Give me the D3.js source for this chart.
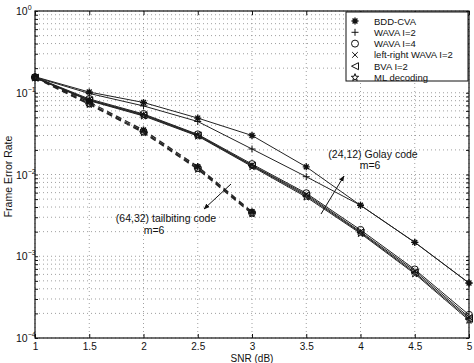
<!DOCTYPE html>
<html><head><meta charset="utf-8">
<script src="https://cdn.jsdelivr.net/npm/d3@7"></script>
<style>body{margin:0;background:#fff;} svg{display:block;} text{font-family:"Liberation Sans",Arial,Helvetica,sans-serif;fill:#111;}</style>
</head><body><svg id="c" width="474" height="363"></svg>
<script>
const snr = [1, 1.5, 2, 2.5, 3, 3.5, 4, 4.5, 5];
const snrTail = [1, 1.5, 2, 2.5, 3];
// (24,12) Golay code, m=6
const golayBDD   = [0.157, 0.102, 0.076, 0.049, 0.030, 0.0124, 0.0042, 0.00148, 0.00047];
const golayWAVA2 = [0.155, 0.098, 0.069, 0.0445, 0.0205, 0.0094, 0.0042, 0.00148, 0.00047];
const golayWAVA4 = [0.155, 0.084, 0.055, 0.031, 0.0134, 0.0059, 0.0021, 0.00069, 0.000192];
const golayLR    = [0.154, 0.082, 0.054, 0.0305, 0.0130, 0.0057, 0.0020, 0.00066, 0.000180];
const golayBVA   = [0.153, 0.081, 0.053, 0.0300, 0.0128, 0.0055, 0.00195, 0.00063, 0.000172];
const golayML    = [0.152, 0.080, 0.052, 0.0295, 0.0125, 0.0053, 0.0019, 0.00061, 0.000165];
// (64,32) tailbiting code, m=6
const tailBDD    = [0.156, 0.077, 0.035, 0.0125, 0.0035];
const tailWAVA4  = [0.154, 0.074, 0.0335, 0.0120, 0.0034];
const tailML     = [0.152, 0.072, 0.0325, 0.0116, 0.0033];

const legendLabels = ["BDD-CVA", "WAVA I=2", "WAVA I=4", "left-right WAVA I=2", "BVA I=2", "ML decoding"];
const legendMarkers = ["star", "plus", "circle", "cross", "tri", "penta"];
const xTicks = [1, 1.5, 2, 2.5, 3, 3.5, 4, 4.5, 5];
const yTickExps = [0, -1, -2, -3, -4];

const svg = d3.select("#c");
const L = 35, R = 469, T = 11, B = 338;
const x = d3.scaleLinear().domain([1, 5]).range([L, R]);
const y = d3.scaleLog().domain([1e-4, 1]).range([B, T]);

// grid
const g = svg.append("g");
const minor = [];
for (let e = -4; e < 0; e++) for (let k = 2; k <= 9; k++) minor.push(k * Math.pow(10, e));
const yAll = minor.concat(yTickExps.map(e => Math.pow(10, e)));
g.selectAll(".gy").data(yAll).join("line")
  .attr("x1", L).attr("x2", R).attr("y1", d => y(d)).attr("y2", d => y(d))
  .attr("stroke", "#888").attr("stroke-width", 0.8).attr("stroke-dasharray", "1,3");
g.selectAll(".gx").data(xTicks).join("line")
  .attr("y1", T).attr("y2", B).attr("x1", d => x(d)).attr("x2", d => x(d))
  .attr("stroke", "#888").attr("stroke-width", 0.8).attr("stroke-dasharray", "1,3");

// axes ticks (inside, all four sides)
const ax = svg.append("g");
ax.append("g").attr("transform", `translate(0,${B})`)
  .call(d3.axisBottom(x).tickValues(xTicks).tickSizeInner(-4).tickSizeOuter(0).tickFormat(d3.format("")))
  .call(s => { s.select(".domain").remove(); s.selectAll("text").attr("dy", null).attr("y", 12).attr("font-size", 10).attr("font-family", "Liberation Sans, Arial"); s.selectAll("line").attr("stroke", "#111"); });
ax.append("g").attr("transform", `translate(0,${T})`)
  .call(d3.axisTop(x).tickValues(xTicks).tickSizeInner(-4).tickSizeOuter(0).tickFormat(""))
  .call(s => { s.select(".domain").remove(); s.selectAll("line").attr("stroke", "#111"); });
ax.append("g").attr("transform", `translate(${L},0)`)
  .call(d3.axisLeft(y).tickValues(yAll).tickSizeInner(-3).tickSizeOuter(0).tickFormat(""))
  .call(s => { s.select(".domain").remove(); s.selectAll("line").attr("stroke", "#111"); });
ax.append("g").attr("transform", `translate(${R},0)`)
  .call(d3.axisRight(y).tickValues(yAll).tickSizeInner(-3).tickSizeOuter(0).tickFormat(""))
  .call(s => { s.select(".domain").remove(); s.selectAll("line").attr("stroke", "#111"); });
svg.append("rect").attr("x", L).attr("y", T).attr("width", R - L).attr("height", B - T)
  .attr("fill", "none").attr("stroke", "#111").attr("stroke-width", 1.2);

// y tick labels 10^e
yTickExps.forEach(e => {
  const t = svg.append("text").attr("x", 16).attr("y", y(Math.pow(10, e)) + 4).attr("font-size", 10.5);
  t.append("tspan").text("10");
  t.append("tspan").attr("dy", -5).attr("font-size", 7).text(e === 0 ? "0" : "\u2212" + (-e));
});

svg.append("text").attr("x", x(3)).attr("y", 362).attr("text-anchor", "middle").attr("font-size", 10).text("SNR (dB)");
svg.append("text").attr("transform", `translate(12,${(T + B) / 2 + 2}) rotate(-90)`).attr("text-anchor", "middle").attr("font-size", 10.5).text("Frame Error Rate");

// markers
function marker(sel, type, cx, cy) {
  const r = 3.5;
  const p = sel.append("g").attr("transform", `translate(${cx},${cy})`).attr("stroke", "#111").attr("stroke-width", 1).attr("fill", "none");
  if (type === "star") {
    p.append("path").attr("d", `M${-r},0H${r}M0,${-r}V${r}M${-r*0.7},${-r*0.7}L${r*0.7},${r*0.7}M${-r*0.7},${r*0.7}L${r*0.7},${-r*0.7}`).attr("stroke-width", 1.4);
  } else if (type === "plus") {
    p.append("path").attr("d", `M${-r},0H${r}M0,${-r}V${r}`);
  } else if (type === "circle") {
    p.append("circle").attr("r", r);
  } else if (type === "cross") {
    p.append("path").attr("d", `M${-r*0.8},${-r*0.8}L${r*0.8},${r*0.8}M${-r*0.8},${r*0.8}L${r*0.8},${-r*0.8}`);
  } else if (type === "tri") {
    p.append("path").attr("d", `M${-r},0L${r},${-r}L${r},${r}Z`);
  } else if (type === "penta") {
    const pts = [];
    for (let i = 0; i < 10; i++) {
      const a = -Math.PI / 2 + i * Math.PI / 5, rr = i % 2 ? r * 0.45 : r * 1.1;
      pts.push([rr * Math.cos(a), rr * Math.sin(a)]);
    }
    p.append("path").attr("d", "M" + pts.map(q => q.join(",")).join("L") + "Z");
  }
}

const line = d3.line().x(d => x(d[0])).y(d => y(d[1]));
function series(xs, ys, type, dashed, w) {
  const data = xs.map((v, i) => [v, ys[i]]);
  svg.append("path").datum(data).attr("d", line).attr("fill", "none").attr("stroke", "#222")
    .attr("stroke-width", w || 1).attr("stroke-dasharray", dashed ? "6,4" : null);
  const m = svg.append("g");
  data.forEach(d => marker(m, type, x(d[0]), y(d[1])));
}

series(snr, golayBDD, "star", false);
series(snr, golayWAVA2, "plus", false);
series(snr, golayWAVA4, "circle", false);
series(snr, golayLR, "cross", false);
series(snr, golayBVA, "tri", false);
series(snr, golayML, "penta", false);
series(snrTail, tailBDD, "star", true, 1.3);
series(snrTail, tailWAVA4, "circle", true, 1.3);
series(snrTail, tailML, "penta", true, 1.3);

// annotations
const defs = svg.append("defs");
defs.append("marker").attr("id", "ah").attr("viewBox", "0 0 10 10").attr("refX", 9).attr("refY", 5)
  .attr("markerWidth", 6).attr("markerHeight", 6).attr("orient", "auto")
  .append("path").attr("d", "M0,1L10,5L0,9Z").attr("fill", "#111");
svg.append("line").attr("x1", 321).attr("y1", 214).attr("x2", 344).attr("y2", 176)
  .attr("stroke", "#111").attr("stroke-width", 1).attr("marker-end", "url(#ah)");
svg.append("line").attr("x1", 231).attr("y1", 184).attr("x2", 204).attr("y2", 209)
  .attr("stroke", "#111").attr("stroke-width", 1).attr("marker-end", "url(#ah)");
svg.append("text").attr("x", 373).attr("y", 158).attr("text-anchor", "middle").attr("font-size", 10.5).text("(24,12) Golay code");
svg.append("text").attr("x", 370).attr("y", 169).attr("text-anchor", "middle").attr("font-size", 10.5).text("m=6");
svg.append("text").attr("x", 166).attr("y", 222).attr("text-anchor", "middle").attr("font-size", 10.5).text("(64,32) tailbiting code");
svg.append("text").attr("x", 154).attr("y", 234).attr("text-anchor", "middle").attr("font-size", 10.5).text("m=6");

// legend
const lg = svg.append("g");
lg.append("rect").attr("x", 346).attr("y", 12).attr("width", 122).attr("height", 69)
  .attr("fill", "#fff").attr("stroke", "#111").attr("stroke-width", 1);
legendLabels.forEach((lab, i) => {
  const yy = 21 + i * 11.3;
  marker(lg, legendMarkers[i], 355, yy);
  lg.append("text").attr("x", 374).attr("y", yy + 3.5).attr("font-size", 9.5).text(lab);
});
</script></body></html>
